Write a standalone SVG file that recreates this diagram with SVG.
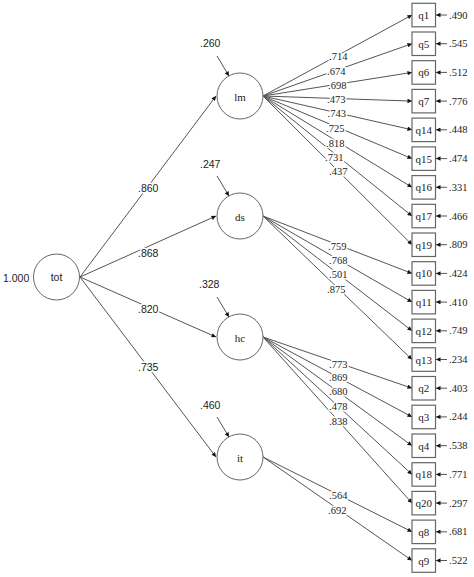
<svg xmlns="http://www.w3.org/2000/svg" width="474" height="577" viewBox="0 0 474 577">
<defs>
<marker id="ah" viewBox="0 0 10 10" refX="10" refY="5" markerWidth="6" markerHeight="4.5" markerUnits="userSpaceOnUse" orient="auto">
<path d="M0,0 L10,5 L0,10 z" fill="#111"/>
</marker>
<style>
.ln{stroke:#555;stroke-width:1;fill:none;marker-end:url(#ah)}
.nd{fill:#fff;stroke:#666;stroke-width:1}
.bx{fill:#fff;stroke:#666;stroke-width:1.2}
.s{font-family:"Liberation Sans",Arial,sans-serif;font-size:10.5px;fill:#222}
.t{font-family:"Liberation Serif","Times New Roman",serif;font-size:10.5px;fill:#222}
.n{font-family:"Liberation Serif","Times New Roman",serif;font-size:11px;fill:#222;text-anchor:middle}
.h{paint-order:stroke;stroke:#fff;stroke-width:3;stroke-linejoin:round}
</style>
</defs>
<rect width="474" height="577" fill="#fff"/>
<g id="connectors">
<!-- tot to latent -->
<path class="ln" d="M80,277 L216,96"/>
<path class="ln" d="M80,277 L216,216"/>
<path class="ln" d="M80,277 L216,337"/>
<path class="ln" d="M80,277 L216,457"/>
<!-- lm -->
<path class="ln" d="M263,96 L412,15"/>
<path class="ln" d="M263,96 L412,43.7"/>
<path class="ln" d="M263,96 L412,72.4"/>
<path class="ln" d="M263,96 L412,101.1"/>
<path class="ln" d="M263,96 L412,129.8"/>
<path class="ln" d="M263,96 L412,158.6"/>
<path class="ln" d="M263,96 L412,187.3"/>
<path class="ln" d="M263,96 L412,216"/>
<path class="ln" d="M263,96 L412,244.7"/>
<!-- ds -->
<path class="ln" d="M263,216 L412,273.4"/>
<path class="ln" d="M263,216 L412,302.1"/>
<path class="ln" d="M263,216 L412,330.8"/>
<path class="ln" d="M263,216 L412,359.5"/>
<!-- hc -->
<path class="ln" d="M263,337 L412,388.2"/>
<path class="ln" d="M263,337 L412,416.9"/>
<path class="ln" d="M263,337 L412,445.7"/>
<path class="ln" d="M263,337 L412,474.4"/>
<path class="ln" d="M263,337 L412,503.1"/>
<!-- it -->
<path class="ln" d="M263,457 L412,531.8"/>
<path class="ln" d="M263,457 L412,560.5"/>
<!-- residual arrows on latents -->
<path class="ln" d="M217,56 L229,76"/>
<path class="ln" d="M217,176 L229,196"/>
<path class="ln" d="M217,297 L229,317"/>
<path class="ln" d="M217,417 L229,437"/>
<!-- error arrows on indicators -->
<path class="ln" d="M447,15 L436,15"/>
<path class="ln" d="M447,43.7 L436,43.7"/>
<path class="ln" d="M447,72.4 L436,72.4"/>
<path class="ln" d="M447,101.1 L436,101.1"/>
<path class="ln" d="M447,129.8 L436,129.8"/>
<path class="ln" d="M447,158.6 L436,158.6"/>
<path class="ln" d="M447,187.3 L436,187.3"/>
<path class="ln" d="M447,216 L436,216"/>
<path class="ln" d="M447,244.7 L436,244.7"/>
<path class="ln" d="M447,273.4 L436,273.4"/>
<path class="ln" d="M447,302.1 L436,302.1"/>
<path class="ln" d="M447,330.8 L436,330.8"/>
<path class="ln" d="M447,359.5 L436,359.5"/>
<path class="ln" d="M447,388.2 L436,388.2"/>
<path class="ln" d="M447,416.9 L436,416.9"/>
<path class="ln" d="M447,445.7 L436,445.7"/>
<path class="ln" d="M447,474.4 L436,474.4"/>
<path class="ln" d="M447,503.1 L436,503.1"/>
<path class="ln" d="M447,531.8 L436,531.8"/>
<path class="ln" d="M447,560.5 L436,560.5"/>
<!-- path labels -->
<text class="s h" x="138" y="192">.860</text>
<text class="s h" x="138" y="257">.868</text>
<text class="s h" x="138" y="313">.820</text>
<text class="s h" x="138" y="371">.735</text>
<text class="t h" x="329" y="60">.714</text>
<text class="t h" x="327" y="74.5">.674</text>
<text class="t h" x="328" y="89">.698</text>
<text class="t h" x="327" y="103">.473</text>
<text class="t h" x="327.5" y="117">.743</text>
<text class="t h" x="326" y="132">.725</text>
<text class="t h" x="326" y="146.5">.818</text>
<text class="t h" x="325" y="161">.731</text>
<text class="t h" x="329" y="175">.437</text>
<text class="t h" x="328" y="250">.759</text>
<text class="t h" x="329" y="264">.768</text>
<text class="t h" x="329" y="278">.501</text>
<text class="t h" x="327" y="292.5">.875</text>
<text class="t h" x="329" y="367.5">.773</text>
<text class="t h" x="329" y="381">.869</text>
<text class="t h" x="329" y="395">.680</text>
<text class="t h" x="329" y="410">.478</text>
<text class="t h" x="329" y="425">.838</text>
<text class="t h" x="329" y="499">.564</text>
<text class="t h" x="328" y="514">.692</text>
</g>
<g id="tot">
<circle class="nd" cx="56.5" cy="277" r="23"/>
<text class="s" x="56.5" y="281" text-anchor="middle">tot</text>
<text class="s" x="3" y="281.5">1.000</text>
</g>
<g id="lm">
<circle class="nd" cx="240" cy="96" r="23"/>
<text class="n" x="240" y="101">lm</text>
<text class="s" x="200" y="47">.260</text>
</g>
<g id="ds">
<circle class="nd" cx="240" cy="216" r="23"/>
<text class="n" x="240" y="221">ds</text>
<text class="s" x="200" y="167.5">.247</text>
</g>
<g id="hc">
<circle class="nd" cx="240" cy="337" r="23"/>
<text class="n" x="240" y="342">hc</text>
<text class="s" x="199" y="288">.328</text>
</g>
<g id="it">
<circle class="nd" cx="240" cy="457" r="23"/>
<text class="n" x="240" y="462">it</text>
<text class="s" x="200" y="409">.460</text>
</g>
<g id="q1"><rect class="bx" x="412" y="3.3" width="23.5" height="23.5"/><text class="n" x="423.7" y="19">q1</text><text class="t" x="449" y="18.5">.490</text></g>
<g id="q5"><rect class="bx" x="412" y="32" width="23.5" height="23.5"/><text class="n" x="423.7" y="47.7">q5</text><text class="t" x="449" y="47.2">.545</text></g>
<g id="q6"><rect class="bx" x="412" y="60.7" width="23.5" height="23.5"/><text class="n" x="423.7" y="76.4">q6</text><text class="t" x="449" y="75.9">.512</text></g>
<g id="q7"><rect class="bx" x="412" y="89.4" width="23.5" height="23.5"/><text class="n" x="423.7" y="105.1">q7</text><text class="t" x="449" y="104.6">.776</text></g>
<g id="q14"><rect class="bx" x="412" y="118.1" width="23.5" height="23.5"/><text class="n" x="423.7" y="133.8">q14</text><text class="t" x="449" y="133.3">.448</text></g>
<g id="q15"><rect class="bx" x="412" y="146.9" width="23.5" height="23.5"/><text class="n" x="423.7" y="162.6">q15</text><text class="t" x="449" y="162.1">.474</text></g>
<g id="q16"><rect class="bx" x="412" y="175.6" width="23.5" height="23.5"/><text class="n" x="423.7" y="191.3">q16</text><text class="t" x="449" y="190.8">.331</text></g>
<g id="q17"><rect class="bx" x="412" y="204.3" width="23.5" height="23.5"/><text class="n" x="423.7" y="220">q17</text><text class="t" x="449" y="219.5">.466</text></g>
<g id="q19"><rect class="bx" x="412" y="233" width="23.5" height="23.5"/><text class="n" x="423.7" y="248.7">q19</text><text class="t" x="449" y="248.2">.809</text></g>
<g id="q10"><rect class="bx" x="412" y="261.7" width="23.5" height="23.5"/><text class="n" x="423.7" y="277.4">q10</text><text class="t" x="449" y="276.9">.424</text></g>
<g id="q11"><rect class="bx" x="412" y="290.4" width="23.5" height="23.5"/><text class="n" x="423.7" y="306.1">q11</text><text class="t" x="449" y="305.6">.410</text></g>
<g id="q12"><rect class="bx" x="412" y="319.1" width="23.5" height="23.5"/><text class="n" x="423.7" y="334.8">q12</text><text class="t" x="449" y="334.3">.749</text></g>
<g id="q13"><rect class="bx" x="412" y="347.8" width="23.5" height="23.5"/><text class="n" x="423.7" y="363.5">q13</text><text class="t" x="449" y="363">.234</text></g>
<g id="q2"><rect class="bx" x="412" y="376.5" width="23.5" height="23.5"/><text class="n" x="423.7" y="392.2">q2</text><text class="t" x="449" y="391.7">.403</text></g>
<g id="q3"><rect class="bx" x="412" y="405.2" width="23.5" height="23.5"/><text class="n" x="423.7" y="420.9">q3</text><text class="t" x="449" y="420.4">.244</text></g>
<g id="q4"><rect class="bx" x="412" y="434" width="23.5" height="23.5"/><text class="n" x="423.7" y="449.7">q4</text><text class="t" x="449" y="449.2">.538</text></g>
<g id="q18"><rect class="bx" x="412" y="462.7" width="23.5" height="23.5"/><text class="n" x="423.7" y="478.4">q18</text><text class="t" x="449" y="477.9">.771</text></g>
<g id="q20"><rect class="bx" x="412" y="491.4" width="23.5" height="23.5"/><text class="n" x="423.7" y="507.1">q20</text><text class="t" x="449" y="506.6">.297</text></g>
<g id="q8"><rect class="bx" x="412" y="520.1" width="23.5" height="23.5"/><text class="n" x="423.7" y="535.8">q8</text><text class="t" x="449" y="535.3">.681</text></g>
<g id="q9"><rect class="bx" x="412" y="548.8" width="23.5" height="23.5"/><text class="n" x="423.7" y="564.5">q9</text><text class="t" x="449" y="564">.522</text></g>
</svg>
